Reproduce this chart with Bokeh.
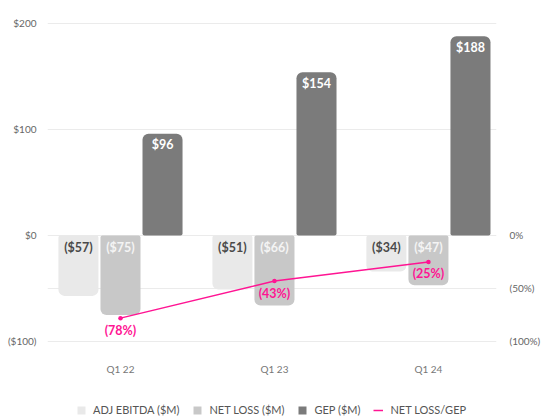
import numpy as np
from bokeh.plotting import figure
from bokeh.models import (Range1d, LinearAxis, FixedTicker, Legend, LegendItem,
                          ColumnDataSource)
from bokeh.core.properties import value
from bokeh.embed import file_html
from bokeh.resources import INLINE

# ---- data ----
quarters = ["Q1 22", "Q1 23", "Q1 24"]
adj_ebitda = [-57, -51, -34]
net_loss = [-75, -66, -47]
gep = [96, 154, 188]
net_loss_gep_pct = [-78, -43, -25]
left_ticks = [-100, 0, 100, 200]
left_tick_labels = ["($100)", "$0", "$100", "$200"]
right_ticks = [-100, -50, 0]
right_tick_labels = ["(100%)", "(50%)", "0%"]

FONT = "Lato"
C_EBITDA = "#e9e9e9"
C_LOSS = "#c8c8c8"
C_GEP = "#7b7b7b"
C_PINK = "#ff1493"

xs = np.arange(len(quarters))
off = 0.273
bw = 0.26

def money(v):
    return f"(${-v})" if v < 0 else f"${v}"

src = ColumnDataSource(dict(
    x_e=(xs - off).tolist(), x_l=xs.tolist(), x_g=(xs + off).tolist(),
    e=adj_ebitda, l=net_loss, g=gep, pct=net_loss_gep_pct,
    zero=[0] * len(xs),
    e_lab=[money(v) for v in adj_ebitda],
    l_lab=[money(v) for v in net_loss],
    g_lab=[money(v) for v in gep],
    p_lab=[f"({-v}%)" for v in net_loss_gep_pct],
))

Y0, Y1 = -170.8, 209.4
p = figure(width=550, height=416, output_backend="svg", toolbar_location=None,
           x_range=Range1d(-0.474, 2.442), y_range=Range1d(Y0, Y1),
           min_border_left=47, min_border_right=54, min_border_top=13,
           min_border_bottom=0)
p.extra_y_ranges = {"pct": Range1d(Y0, Y1)}
p.outline_line_color = None

# bars
r_e = p.vbar(x="x_e", top="zero", bottom="e", width=bw, source=src,
             fill_color=C_EBITDA, line_color=None, border_radius=(2, 2, 6, 6))
r_l = p.vbar(x="x_l", top="zero", bottom="l", width=bw, source=src,
             fill_color=C_LOSS, line_color=None, border_radius=(2, 2, 6, 6))
r_g = p.vbar(x="x_g", top="g", bottom="zero", width=bw, source=src,
             fill_color=C_GEP, line_color=None, border_radius=(6, 6, 2, 2))

# bar labels
common = dict(text_font=value(FONT), text_font_style="bold", text_font_size="12.5px",
              text_align="center", text_baseline="middle", source=src)
p.text(x="x_e", y="zero", text="e_lab", y_offset=12, text_color="#4a4a4a", **common)
p.text(x="x_l", y="zero", text="l_lab", y_offset=12, text_color="#f4f4f4", **common)
p.text(x="x_g", y="g", text="g_lab", y_offset=11, text_color="#ffffff", **common)

# line
r_line = p.line(x="x_l", y="pct", source=src, y_range_name="pct",
                line_color=C_PINK, line_width=1.5)
p.scatter(x="x_l", y="pct", source=src, y_range_name="pct", size=4.5,
          fill_color=C_PINK, line_color=None)
p.text(x="x_l", y="pct", text="p_lab", y_range_name="pct", y_offset=12,
       text_color=C_PINK, text_font=value(FONT), text_font_style="bold",
       text_font_size="12.5px", text_align="center", text_baseline="middle",
       source=src)

# axes
def style_axis(ax):
    ax.axis_line_color = None
    ax.major_tick_line_color = None
    ax.minor_tick_line_color = None
    ax.major_tick_out = 0
    ax.major_tick_in = 0
    ax.major_label_text_font = FONT
    ax.major_label_text_font_size = "10px"
    ax.major_label_text_color = "#666666"

p.yaxis.ticker = FixedTicker(ticks=left_ticks)
p.yaxis.major_label_overrides = {t: s for t, s in zip(left_ticks, left_tick_labels)}
p.yaxis.major_label_standoff = 11
style_axis(p.yaxis[0])

ax_r = LinearAxis(y_range_name="pct", ticker=FixedTicker(ticks=right_ticks))
ax_r.major_label_overrides = {t: s for t, s in zip(right_ticks, right_tick_labels)}
ax_r.major_label_standoff = 13
style_axis(ax_r)
p.add_layout(ax_r, "right")

p.xaxis.ticker = FixedTicker(ticks=xs.tolist())
p.xaxis.major_label_overrides = {int(i): q for i, q in zip(xs, quarters)}
p.xaxis.fixed_location = -110
p.xaxis.major_label_standoff = 11
style_axis(p.xaxis[0])
p.xaxis.major_label_text_color = "#777777"

p.xgrid.grid_line_color = None
p.ygrid.ticker = FixedTicker(ticks=[-100, -50, 0, 100, 200])
p.ygrid.grid_line_color = "#ebebeb"
p.ygrid.grid_line_width = 1

legend = Legend(items=[
    LegendItem(label="ADJ EBITDA ($M)", renderers=[r_e]),
    LegendItem(label="NET LOSS ($M)", renderers=[r_l]),
    LegendItem(label="GEP ($M)", renderers=[r_g]),
    LegendItem(label="NET LOSS/GEP", renderers=[r_line]),
], orientation="horizontal", location=(29, 0))
legend.glyph_width = 10
legend.glyph_height = 10
legend.label_height = 10
legend.label_standoff = 7
legend.spacing = 13
legend.padding = 0
legend.margin = 0
legend.border_line_color = None
legend.background_fill_alpha = 0
legend.label_text_font = FONT
legend.label_text_font_size = "11px"
legend.label_text_color = "#555555"
p.add_layout(legend, "center")

open("out.html", "w").write(file_html(p, INLINE))
